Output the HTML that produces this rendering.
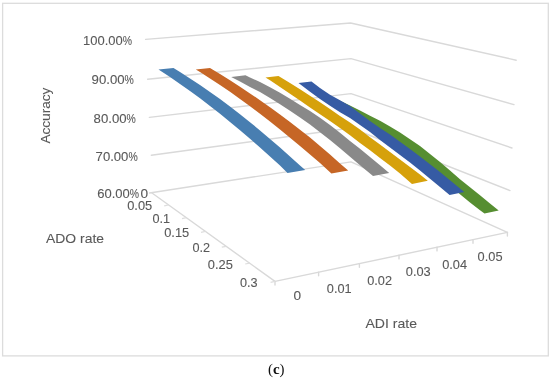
<!DOCTYPE html>
<html><head><meta charset="utf-8"><title>chart</title>
<style>
html,body{margin:0;padding:0;background:#fff;}
body{width:550px;height:384px;overflow:hidden;font-family:"Liberation Sans",sans-serif;}
svg{display:block}
text{font-family:"Liberation Sans",sans-serif;fill:#595959;stroke:#595959;stroke-width:0.1px}
.cap{font-family:"Liberation Serif",serif;fill:#111;stroke:none}
</style></head><body>
<svg width="550" height="384" viewBox="0 0 550 384">
<rect x="0" y="0" width="550" height="384" fill="#fff"/>
<rect x="2.6" y="3.3" width="545.7" height="352.6" fill="#fff" stroke="#dcdcdc" stroke-width="1.3"/>

<g fill="none" stroke="#d9d9d9" stroke-width="1.4" stroke-linejoin="round" stroke-linecap="round">
<polyline points="145.6,39.4 350.6,23.0 516.2,60.2"/>
<polyline points="147.6,79.2 351.0,58.6 514.0,104.6"/>
<polyline points="149.4,117.4 351.0,93.6 512.0,148.0"/>
<polyline points="151.3,155.2 351.0,128.0 510.0,190.6"/>
<polyline points="149.5,193.0 351.0,161.9 507.4,232.4"/>
<polyline points="152,193 275,281.4 507.4,232.4"/>
<line x1="275.0" y1="281.4" x2="275.0" y2="285.0"/>
<line x1="318.6" y1="272.2" x2="318.6" y2="275.8"/>
<line x1="359.4" y1="263.6" x2="359.4" y2="267.2"/>
<line x1="399.0" y1="255.3" x2="399.0" y2="258.9"/>
<line x1="437.0" y1="247.3" x2="437.0" y2="250.9"/>
<line x1="473.0" y1="239.7" x2="473.0" y2="243.3"/>
<line x1="507.4" y1="232.4" x2="507.4" y2="236.0"/>
</g>
<g fill="none" stroke="#dedede" stroke-width="1.2">
<line x1="168.6" y1="204.9" x2="164.2" y2="205.8"/>
<line x1="186.4" y1="217.7" x2="182.0" y2="218.6"/>
<line x1="205.4" y1="231.4" x2="201.0" y2="232.3"/>
<line x1="226.2" y1="246.3" x2="221.8" y2="247.2"/>
<line x1="249.6" y1="263.1" x2="245.2" y2="264.0"/>
<line x1="275.0" y1="281.4" x2="270.6" y2="282.3"/>
</g>
<polygon fill="#568e31" points="335.0,98.4 340.0,100.8 350.0,105.6 360.0,110.6 370.0,115.7 380.0,120.7 390.0,126.4 400.0,132.5 410.0,139.2 420.0,146.1 430.0,153.9 440.0,162.1 450.0,170.6 460.0,179.2 470.0,187.3 480.0,195.3 490.0,203.4 498.7,210.4 484.5,213.5 480.0,210.3 470.0,202.4 460.0,194.3 450.0,185.6 440.0,177.6 430.0,169.6 420.0,161.7 410.0,153.9 400.0,146.2 390.0,138.7 380.0,131.3 370.0,124.1 360.0,117.2 350.0,110.4 340.0,104.0"/>
<polygon fill="#365ba4" points="311.5,81.5 320.0,87.9 330.0,94.8 340.0,100.3 350.0,106.1 360.0,113.4 370.0,120.9 380.0,128.0 390.0,134.6 400.0,141.7 410.0,149.0 420.0,156.5 430.0,164.2 440.0,172.1 450.0,180.2 464.3,192.0 449.6,195.1 440.0,187.1 430.0,178.7 420.0,170.5 410.0,162.6 400.0,154.9 390.0,147.4 380.0,140.0 370.0,132.1 360.0,124.9 350.0,118.0 340.0,112.3 330.0,105.8 320.0,98.9 310.0,91.7 298.5,83.0"/>
<polygon fill="#d6a10b" points="278.5,76.0 290.0,83.0 300.0,89.3 310.0,95.7 320.0,102.3 330.0,109.1 340.0,116.0 350.0,122.5 360.0,129.5 370.0,137.3 380.0,144.6 390.0,152.0 400.0,159.4 410.0,166.9 420.0,174.5 427.8,180.7 412.0,183.9 400.0,173.6 390.0,165.6 380.0,157.9 370.0,150.3 360.0,142.9 350.0,135.2 340.0,128.0 330.0,120.9 320.0,114.3 310.0,107.4 300.0,100.6 290.0,93.8 280.0,87.0 270.0,80.2 265.5,77.5"/>
<polygon fill="#898989" points="245.5,75.2 250.0,77.4 260.0,82.1 270.0,87.3 280.0,92.8 290.0,98.7 300.0,105.0 310.0,111.0 320.0,117.8 330.0,125.0 340.0,132.7 350.0,140.9 360.0,148.8 370.0,157.0 380.0,165.3 389.2,173.0 373.0,176.1 360.0,165.2 350.0,156.8 340.0,148.2 330.0,140.1 320.0,132.2 310.0,124.5 300.0,117.5 290.0,110.8 280.0,104.3 270.0,98.1 260.0,92.1 250.0,86.9 240.0,81.5 231.2,77.0"/>
<polygon fill="#c66626" points="210.0,68.0 220.0,74.0 230.0,80.2 240.0,86.7 250.0,93.4 260.0,100.2 270.0,107.2 280.0,114.5 290.0,122.0 300.0,129.7 310.0,137.6 320.0,145.9 330.0,154.4 340.0,163.4 348.2,170.6 331.4,173.4 320.0,163.1 310.0,154.5 300.0,146.1 290.0,137.8 280.0,129.6 270.0,121.6 260.0,113.8 250.0,106.3 240.0,98.9 230.0,91.8 220.0,85.0 210.0,78.4 200.0,72.1 195.8,69.5"/>
<polygon fill="#487eb1" points="173.5,68.0 180.0,72.1 190.0,78.4 200.0,85.0 210.0,91.9 220.0,99.1 230.0,106.6 240.0,114.3 250.0,122.2 260.0,130.4 270.0,138.9 280.0,147.5 290.0,156.4 300.0,165.5 305.2,169.9 287.5,172.9 280.0,165.6 270.0,156.4 260.0,147.5 250.0,138.7 240.0,130.2 230.0,121.9 220.0,113.8 210.0,105.9 200.0,98.3 190.0,91.0 180.0,83.9 170.0,77.1 158.5,69.5"/>
<text x="83.1" y="44.8" font-size="13.1" text-anchor="start" textLength="39.7" lengthAdjust="spacingAndGlyphs">100.00</text><text x="122.8" y="44.8" font-size="13.1" text-anchor="start" textLength="9.3" lengthAdjust="spacingAndGlyphs">%</text>
<text x="91.6" y="84.4" font-size="13.1" text-anchor="start" textLength="33.0" lengthAdjust="spacingAndGlyphs">90.00</text><text x="124.6" y="84.4" font-size="13.1" text-anchor="start" textLength="9.3" lengthAdjust="spacingAndGlyphs">%</text>
<text x="93.6" y="122.6" font-size="13.1" text-anchor="start" textLength="33.0" lengthAdjust="spacingAndGlyphs">80.00</text><text x="126.6" y="122.6" font-size="13.1" text-anchor="start" textLength="9.3" lengthAdjust="spacingAndGlyphs">%</text>
<text x="95.6" y="160.6" font-size="13.1" text-anchor="start" textLength="32.8" lengthAdjust="spacingAndGlyphs">70.00</text><text x="128.4" y="160.6" font-size="13.1" text-anchor="start" textLength="9.3" lengthAdjust="spacingAndGlyphs">%</text>
<text x="97.2" y="197.8" font-size="13.1" text-anchor="start" textLength="32.6" lengthAdjust="spacingAndGlyphs">60.00</text><text x="129.8" y="197.8" font-size="13.1" text-anchor="start" textLength="9.3" lengthAdjust="spacingAndGlyphs">%</text>
<text x="140.6" y="197.8" font-size="13.1" text-anchor="start" textLength="7.6" lengthAdjust="spacingAndGlyphs">0</text>
<text x="127.2" y="209.8" font-size="13.1" text-anchor="start" textLength="25.0" lengthAdjust="spacingAndGlyphs">0.05</text>
<text x="152.4" y="222.7" font-size="13.1" text-anchor="start" textLength="17.6" lengthAdjust="spacingAndGlyphs">0.1</text>
<text x="164.2" y="236.6" font-size="13.1" text-anchor="start" textLength="25.0" lengthAdjust="spacingAndGlyphs">0.15</text>
<text x="192.5" y="251.7" font-size="13.1" text-anchor="start" textLength="17.6" lengthAdjust="spacingAndGlyphs">0.2</text>
<text x="207.8" y="268.5" font-size="13.1" text-anchor="start" textLength="25.0" lengthAdjust="spacingAndGlyphs">0.25</text>
<text x="240.0" y="286.7" font-size="13.1" text-anchor="start" textLength="17.6" lengthAdjust="spacingAndGlyphs">0.3</text>
<text x="293.4" y="300.2" font-size="13.1" text-anchor="start" textLength="7.6" lengthAdjust="spacingAndGlyphs">0</text>
<text x="326.8" y="293.2" font-size="13.1" text-anchor="start" textLength="24.8" lengthAdjust="spacingAndGlyphs">0.01</text>
<text x="367.2" y="284.5" font-size="13.1" text-anchor="start" textLength="24.8" lengthAdjust="spacingAndGlyphs">0.02</text>
<text x="405.8" y="275.8" font-size="13.1" text-anchor="start" textLength="24.9" lengthAdjust="spacingAndGlyphs">0.03</text>
<text x="442.2" y="268.8" font-size="13.1" text-anchor="start" textLength="24.9" lengthAdjust="spacingAndGlyphs">0.04</text>
<text x="477.6" y="261.0" font-size="13.1" text-anchor="start" textLength="24.9" lengthAdjust="spacingAndGlyphs">0.05</text>
<text x="46.0" y="242.6" font-size="13.6" text-anchor="start" textLength="58.0" lengthAdjust="spacingAndGlyphs">ADO rate</text>
<text x="365.4" y="327.6" font-size="13.6" text-anchor="start" textLength="51.6" lengthAdjust="spacingAndGlyphs">ADI rate</text>
<text transform="translate(50,143.6) rotate(-90)" font-size="13.6" textLength="56" lengthAdjust="spacingAndGlyphs">Accuracy</text>
<text class="cap" x="268" y="374" font-size="14" textLength="16.6" lengthAdjust="spacingAndGlyphs">(<tspan font-weight="bold">c</tspan>)</text>
</svg></body></html>
